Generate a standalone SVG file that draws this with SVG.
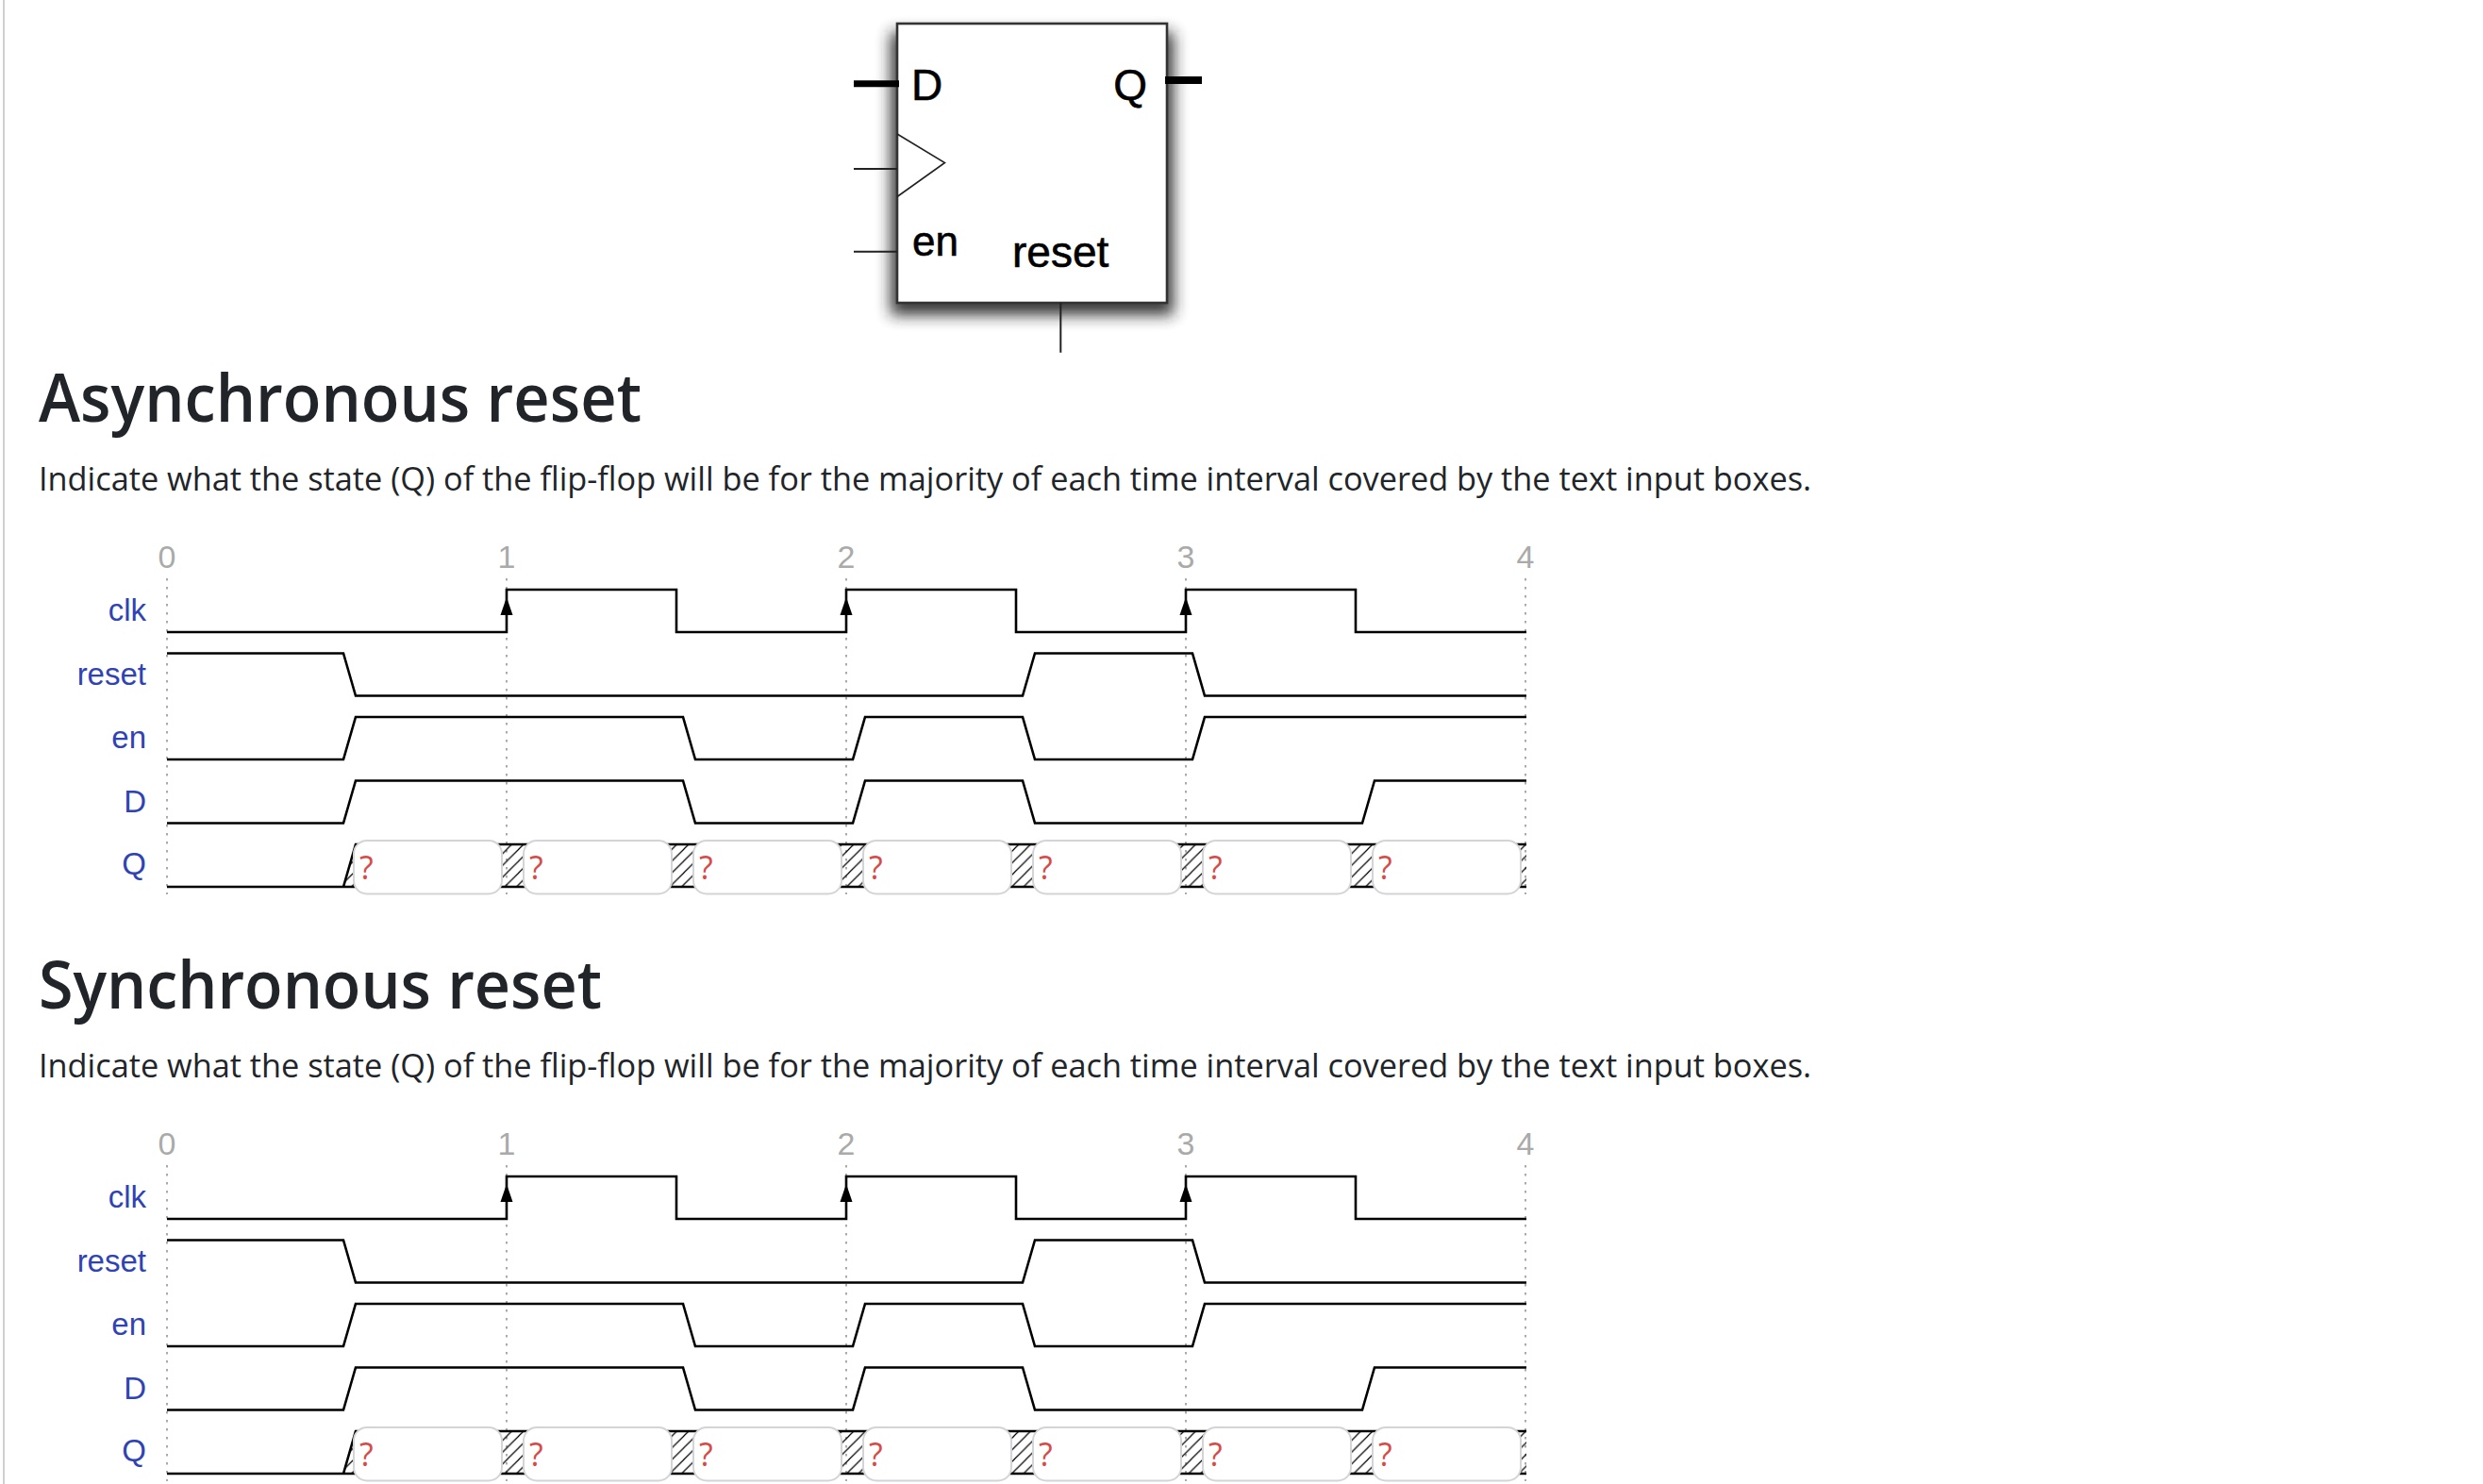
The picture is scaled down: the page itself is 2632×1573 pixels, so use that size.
<svg xmlns="http://www.w3.org/2000/svg" xmlns:xlink="http://www.w3.org/1999/xlink" width="2632" height="1573" viewBox="0 0 2632 1573">
<style>
.wave{fill:none;stroke:#000;stroke-width:2.6}
.grid{fill:none;stroke:#aaa;stroke-width:2;stroke-dasharray:2.5 6.5}
.tick{font:34px "Liberation Sans",Arial,sans-serif;fill:#aaa;text-anchor:middle}
.lab{font:33px "Liberation Sans",Arial,sans-serif;fill:#2f43b5;text-anchor:end}
.h{font:600 70px "Open Sans","Noto Sans",sans-serif;fill:#212529}
.p{font:400 34px "Open Sans","Noto Sans",sans-serif;fill:#212529}
.box{fill:#fff;stroke:#d2d4d8;stroke-width:2}
.q{font:34px "Open Sans","Noto Sans",sans-serif;fill:#d84a48}
.ff{font-family:"Liberation Sans",Arial,sans-serif;fill:#000;stroke:#000;stroke-width:.6}
.stub{stroke:#222;stroke-width:2;fill:none}
</style>
<defs>
<pattern id="hatch" patternUnits="userSpaceOnUse" width="12.500" height="12.500">
<path d="M-2 14.500L14.500 -2M-2 2L2 -2M10.500 14.500L14.500 10.500" stroke="#000" stroke-width="1.2" fill="none"/>
</pattern>
<filter id="blur" x="-20%" y="-20%" width="140%" height="140%"><feGaussianBlur stdDeviation="8"/></filter>
<path id="arrow" d="M0 8L6.5 27H-6.5Z" fill="#000"/>
</defs>
<rect width="2632" height="1573" fill="#fff"/>
<rect x="3" y="0" width="2" height="1573" fill="#d0d0d0"/>

<g id="flipflop">
<rect x="944" y="34" width="300" height="300" fill="#222" filter="url(#blur)" opacity="0.9"/>
<rect x="951" y="25" width="286" height="296" fill="#fff" stroke="#333" stroke-width="2.6"/>
<path d="M951 142L1001.500 172.500L951 208.500" fill="none" stroke="#222" stroke-width="1.6"/>
<path d="M905 88.700H953" stroke="#000" stroke-width="7" fill="none"/>
<path d="M1235 85H1274" stroke="#000" stroke-width="8" fill="none"/>
<path class="stub" d="M905 179H951M905 266.700H951M1124.300 321V373.700"/>
<text class="ff" x="966" y="105.500" font-size="46">D</text>
<text class="ff" x="1216" y="105.500" font-size="46" text-anchor="end">Q</text>
<text class="ff" x="967" y="271" font-size="44">en</text>
<text class="ff" x="1073" y="283" font-size="46">reset</text>
</g>

<g id="async">
<text class="h" x="41" y="447" textLength="639" lengthAdjust="spacingAndGlyphs">Asynchronous reset</text>
<text class="p" x="41" y="519.500" textLength="1879" lengthAdjust="spacingAndGlyphs">Indicate what the state (Q) of the flip-flop will be for the majority of each time interval covered by the text input boxes.</text>
<g id="async-grid">
<path class="grid" d="M177 613V948M537 613V948M897 613V948M1257 613V948M1617 613V948"/>
<text class="tick" x="177" y="602">0</text><text class="tick" x="537" y="602">1</text><text class="tick" x="897" y="602">2</text><text class="tick" x="1257" y="602">3</text><text class="tick" x="1617" y="602">4</text>
</g>
<g id="async-clk">
<text class="lab" x="155" y="658">clk</text>
<path class="wave" d="M177 670H537V625H717V670H897V625H1077V670H1257V625H1437V670H1618"/>
<use xlink:href="#arrow" href="#arrow" x="537" y="625"/><use xlink:href="#arrow" href="#arrow" x="897" y="625"/><use xlink:href="#arrow" href="#arrow" x="1257" y="625"/>
</g>
<g id="async-reset">
<text class="lab" x="155" y="726">reset</text>
<path class="wave" d="M177 692.500H364L377 737.500H1084L1097 692.500H1264L1277 737.500H1618"/>
</g>
<g id="async-en">
<text class="lab" x="155" y="793">en</text>
<path class="wave" d="M177 805H364L377 760H724L737 805H904L917 760H1084L1097 805H1264L1277 760H1618"/>
</g>
<g id="async-D">
<text class="lab" x="155" y="861">D</text>
<path class="wave" d="M177 872.500H364L377 827.500H724L737 872.500H904L917 827.500H1084L1097 872.500H1444L1457 827.500H1618"/>
</g>
<g id="async-Q">
<text class="lab" x="155" y="927">Q</text>
<path d="M364 940L377 895H1618V940Z" fill="url(#hatch)"/>
<path class="wave" d="M177 940H364L377 895H1618M364 940H1618"/>
<rect class="box" x="375" y="891" width="157" height="56.500" rx="14"/><text class="q" x="381" y="932">?</text>
<rect class="box" x="555" y="891" width="157" height="56.500" rx="14"/><text class="q" x="561" y="932">?</text>
<rect class="box" x="735" y="891" width="157" height="56.500" rx="14"/><text class="q" x="741" y="932">?</text>
<rect class="box" x="915" y="891" width="157" height="56.500" rx="14"/><text class="q" x="921" y="932">?</text>
<rect class="box" x="1095" y="891" width="157" height="56.500" rx="14"/><text class="q" x="1101" y="932">?</text>
<rect class="box" x="1275" y="891" width="157" height="56.500" rx="14"/><text class="q" x="1281" y="932">?</text>
<rect class="box" x="1455" y="891" width="157" height="56.500" rx="14"/><text class="q" x="1461" y="932">?</text>
</g>
</g>

<g id="sync" transform="translate(0,622)">
<text class="h" x="41" y="447" textLength="597" lengthAdjust="spacingAndGlyphs">Synchronous reset</text>
<text class="p" x="41" y="519.500" textLength="1879" lengthAdjust="spacingAndGlyphs">Indicate what the state (Q) of the flip-flop will be for the majority of each time interval covered by the text input boxes.</text>
<g id="sync-grid">
<path class="grid" d="M177 613V948M537 613V948M897 613V948M1257 613V948M1617 613V948"/>
<text class="tick" x="177" y="602">0</text><text class="tick" x="537" y="602">1</text><text class="tick" x="897" y="602">2</text><text class="tick" x="1257" y="602">3</text><text class="tick" x="1617" y="602">4</text>
</g>
<g id="sync-clk">
<text class="lab" x="155" y="658">clk</text>
<path class="wave" d="M177 670H537V625H717V670H897V625H1077V670H1257V625H1437V670H1618"/>
<use xlink:href="#arrow" href="#arrow" x="537" y="625"/><use xlink:href="#arrow" href="#arrow" x="897" y="625"/><use xlink:href="#arrow" href="#arrow" x="1257" y="625"/>
</g>
<g id="sync-reset">
<text class="lab" x="155" y="726">reset</text>
<path class="wave" d="M177 692.500H364L377 737.500H1084L1097 692.500H1264L1277 737.500H1618"/>
</g>
<g id="sync-en">
<text class="lab" x="155" y="793">en</text>
<path class="wave" d="M177 805H364L377 760H724L737 805H904L917 760H1084L1097 805H1264L1277 760H1618"/>
</g>
<g id="sync-D">
<text class="lab" x="155" y="861">D</text>
<path class="wave" d="M177 872.500H364L377 827.500H724L737 872.500H904L917 827.500H1084L1097 872.500H1444L1457 827.500H1618"/>
</g>
<g id="sync-Q">
<text class="lab" x="155" y="927">Q</text>
<path d="M364 940L377 895H1618V940Z" fill="url(#hatch)"/>
<path class="wave" d="M177 940H364L377 895H1618M364 940H1618"/>
<rect class="box" x="375" y="891" width="157" height="56.500" rx="14"/><text class="q" x="381" y="932">?</text>
<rect class="box" x="555" y="891" width="157" height="56.500" rx="14"/><text class="q" x="561" y="932">?</text>
<rect class="box" x="735" y="891" width="157" height="56.500" rx="14"/><text class="q" x="741" y="932">?</text>
<rect class="box" x="915" y="891" width="157" height="56.500" rx="14"/><text class="q" x="921" y="932">?</text>
<rect class="box" x="1095" y="891" width="157" height="56.500" rx="14"/><text class="q" x="1101" y="932">?</text>
<rect class="box" x="1275" y="891" width="157" height="56.500" rx="14"/><text class="q" x="1281" y="932">?</text>
<rect class="box" x="1455" y="891" width="157" height="56.500" rx="14"/><text class="q" x="1461" y="932">?</text>
</g>
</g>
</svg>
